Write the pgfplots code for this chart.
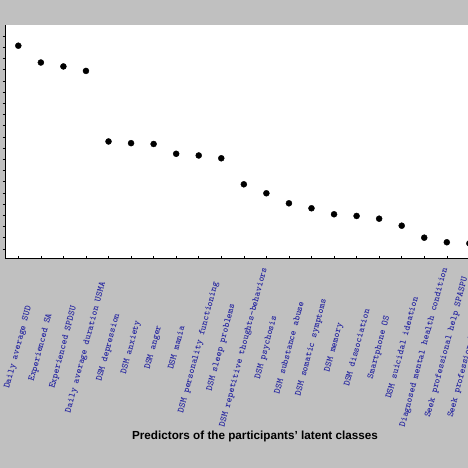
\documentclass[border=0pt]{standalone}
\usepackage{pgfplots}
\pgfplotsset{compat=1.18}
\usetikzlibrary{backgrounds}
\usepackage{fontspec}
\setmainfont{Liberation Sans}
\definecolor{bggray}{RGB}{192,192,192}
\definecolor{lblblue}{RGB}{35,35,160}

\begin{document}
\begin{tikzpicture}[x=1pt,y=1pt]
  \begin{axis}[
    scale only axis,
    width=486.9pt, height=233.5pt,
    xmin=0.41, xmax=22,
    ymin=0.003, ymax=0.42,
    axis background/.style={fill=white},
    axis x line*=bottom, axis y line*=left,
    axis line style={black, line width=0.8pt, -},
    xtick={1,...,21},
    ytick={0.02,0.04,...,0.401},
    yticklabels={},
    x tick style={black, line width=0.6pt},
    y tick style={black, line width=0.6pt},
    xtick align=inside,
    ytick align=outside,
    major tick length=2.5pt,
    xticklabels={Daily average SUD, Experienced SA, Experienced SPDSU,
      Daily average duration USMA, DSM depression, DSM anxiety, DSM anger,
      DSM mania, DSM personality functioning, DSM sleep problems,
      DSM repetitive thoughts-behaviors, DSM psychosis, DSM substance abuse,
      DSM somatic symptoms, DSM memory, DSM dissociation, Smartphone OS,
      DSM suicidal ideation, Diagnosed mental health condition,
      Seek professional help SPASPU, Seek professional help SPASPU},
    xticklabel style={font=\ttfamily\bfseries\fontsize{9.5}{11}\selectfont,
      text=lblblue, rotate=75, anchor=center},
    xticklabel shift=89pt,
    clip=false,
  ]
    \addplot[only marks, mark=*, mark size=3pt, black] coordinates {
      (1,0.383) (2,0.353) (3,0.346) (4,0.338) (5,0.212) (6,0.209)
      (7,0.2075) (8,0.190) (9,0.187) (10,0.182) (11,0.1355) (12,0.1195)
      (13,0.1016) (14,0.0927) (15,0.082) (16,0.079) (17,0.0741)
      (18,0.0616) (19,0.0402) (20,0.032) (21,0.030)
    };
    % lower-left corner of the plotting area
    \coordinate (O) at (axis cs:0.41,0.003);
  \end{axis}
  % grey panel behind the plot
  \begin{scope}[on background layer]
    \fill[bggray] ([shift={(-5,-209.5)}]O) rectangle ([shift={(463,258.5)}]O);
  \end{scope}
  \node[font=\bfseries\fontsize{11.7}{14}\selectfont]
    at ([shift={(250,-178.2)}]O)
    {Predictors of the participants' latent classes};
  \pgfresetboundingbox
  \path[use as bounding box] ([shift={(-5,-209.5)}]O) rectangle ([shift={(463,258.5)}]O);
\end{tikzpicture}
\end{document}
